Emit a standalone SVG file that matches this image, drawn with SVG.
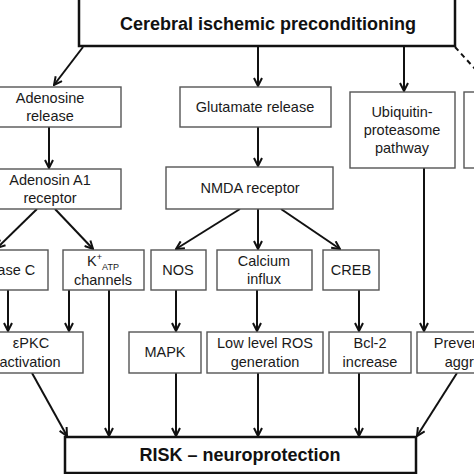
<svg xmlns="http://www.w3.org/2000/svg" width="474" height="474" viewBox="0 0 474 474">
<defs>
<style>
.box{fill:#fff;stroke:#555;stroke-width:1.4}
.bigbox{fill:#fff;stroke:#111;stroke-width:2.5}
.t{font-family:"Liberation Sans",Arial,sans-serif;font-size:14.5px;fill:#1a1a1a;text-anchor:middle}
.b{font-family:"Liberation Sans",Arial,sans-serif;font-size:18px;font-weight:bold;fill:#111;text-anchor:middle}
.c{stroke:#111;stroke-width:2;fill:none;marker-end:url(#ah)}
.d{stroke:#111;stroke-width:2;fill:none;stroke-dasharray:5,4}
</style>
<marker id="ah" viewBox="0 0 10 10" refX="9" refY="5" markerWidth="5" markerHeight="5" orient="auto" markerUnits="strokeWidth">
<path d="M1,1 L9,5 L1,9" fill="none" stroke="#111" stroke-width="2"/>
</marker>
</defs>
<rect width="474" height="474" fill="#fff"/>
<g id="connectors">
<line class="c" x1="83" y1="47" x2="54" y2="85"/>
<line class="c" x1="258" y1="47" x2="258" y2="86"/>
<line class="c" x1="404" y1="47" x2="404" y2="91"/>
<line class="d" x1="455" y1="47" x2="476" y2="70"/>
<line class="c" x1="49" y1="127" x2="49" y2="168"/>
<line class="c" x1="258" y1="127" x2="258" y2="166"/>
<line class="c" x1="37" y1="209" x2="-3" y2="248"/>
<line class="c" x1="55" y1="209" x2="93" y2="249"/>
<line class="c" x1="240" y1="209" x2="176" y2="249"/>
<line class="c" x1="258" y1="209" x2="258" y2="249"/>
<line class="c" x1="281" y1="209" x2="340" y2="249"/>
<line class="c" x1="8" y1="290" x2="8" y2="331"/>
<line class="c" x1="69" y1="290" x2="69" y2="331"/>
<line class="c" x1="109" y1="290" x2="109" y2="436"/>
<line class="c" x1="176" y1="290" x2="176" y2="331"/>
<line class="c" x1="257" y1="290" x2="257" y2="331"/>
<line class="c" x1="359" y1="290" x2="359" y2="331"/>
<line class="c" x1="424" y1="168" x2="424" y2="331"/>
<line class="c" x1="32" y1="373" x2="67" y2="436"/>
<line class="c" x1="176" y1="373" x2="176" y2="436"/>
<line class="c" x1="258" y1="373" x2="258" y2="436"/>
<line class="c" x1="359" y1="373" x2="359" y2="436"/>
<line class="c" x1="457" y1="373" x2="417" y2="436"/>
</g>
<g id="cerebral">
<rect class="bigbox" x="79" y="-2" width="376" height="48"/>
<text class="b" x="268" y="30">Cerebral ischemic preconditioning</text>
</g>
<g id="adenosine-release">
<rect class="box" x="-2" y="87" width="123" height="40"/>
<text class="t" x="50" y="103">Adenosine</text>
<text class="t" x="50" y="121">release</text>
</g>
<g id="glutamate-release">
<rect class="box" x="180" y="87" width="151" height="40"/>
<text class="t" x="255" y="112">Glutamate release</text>
</g>
<g id="ubiquitin">
<rect class="box" x="350" y="92" width="105" height="76"/>
<text class="t" x="402" y="117">Ubiquitin-</text>
<text class="t" x="402" y="135">proteasome</text>
<text class="t" x="402" y="153">pathway</text>
</g>
<g id="right-box">
<rect class="box" x="464" y="92" width="40" height="76"/>
</g>
<g id="adenosin-a1">
<rect class="box" x="-2" y="169" width="123" height="40"/>
<text class="t" x="50" y="185">Adenosin A1</text>
<text class="t" x="50" y="203">receptor</text>
</g>
<g id="nmda">
<rect class="box" x="166" y="167" width="167" height="42"/>
<text class="t" x="250" y="193">NMDA receptor</text>
</g>
<g id="pkc">
<rect class="box" x="-60" y="250" width="108" height="40"/>
<text class="t" x="-18" y="275">Protein kinase C</text>
</g>
<g id="katp">
<rect class="box" x="63" y="250" width="81" height="40"/>
<text class="t" x="103" y="266">K<tspan font-size="9" dy="-6">+</tspan><tspan font-size="9" dy="10">ATP</tspan></text>
<text class="t" x="103" y="285">channels</text>
</g>
<g id="nos">
<rect class="box" x="151" y="250" width="55" height="40"/>
<text class="t" x="178" y="275">NOS</text>
</g>
<g id="calcium">
<rect class="box" x="217" y="250" width="95" height="40"/>
<text class="t" x="264" y="266">Calcium</text>
<text class="t" x="264" y="284">influx</text>
</g>
<g id="creb">
<rect class="box" x="323" y="250" width="56" height="40"/>
<text class="t" x="351" y="275">CREB</text>
</g>
<g id="epkc">
<rect class="box" x="-17" y="332" width="100" height="41"/>
<text class="t" x="31" y="348">εPKC</text>
<text class="t" x="30" y="367">activation</text>
</g>
<g id="mapk">
<rect class="box" x="129" y="332" width="72" height="41"/>
<text class="t" x="165" y="357">MAPK</text>
</g>
<g id="ros">
<rect class="box" x="207" y="332" width="116" height="41"/>
<text class="t" x="265" y="348">Low level ROS</text>
<text class="t" x="265" y="367">generation</text>
</g>
<g id="bcl2">
<rect class="box" x="329" y="332" width="82" height="41"/>
<text class="t" x="370" y="348">Bcl-2</text>
<text class="t" x="370" y="367">increase</text>
</g>
<g id="prevent">
<rect class="box" x="417" y="332" width="120" height="41"/>
<text class="t" x="483" y="348">Prevent protein</text>
<text class="t" x="483" y="367">aggregation</text>
</g>
<g id="risk">
<rect class="bigbox" x="65" y="437" width="351" height="36"/>
<text class="b" x="240" y="461">RISK – neuroprotection</text>
</g>
</svg>
